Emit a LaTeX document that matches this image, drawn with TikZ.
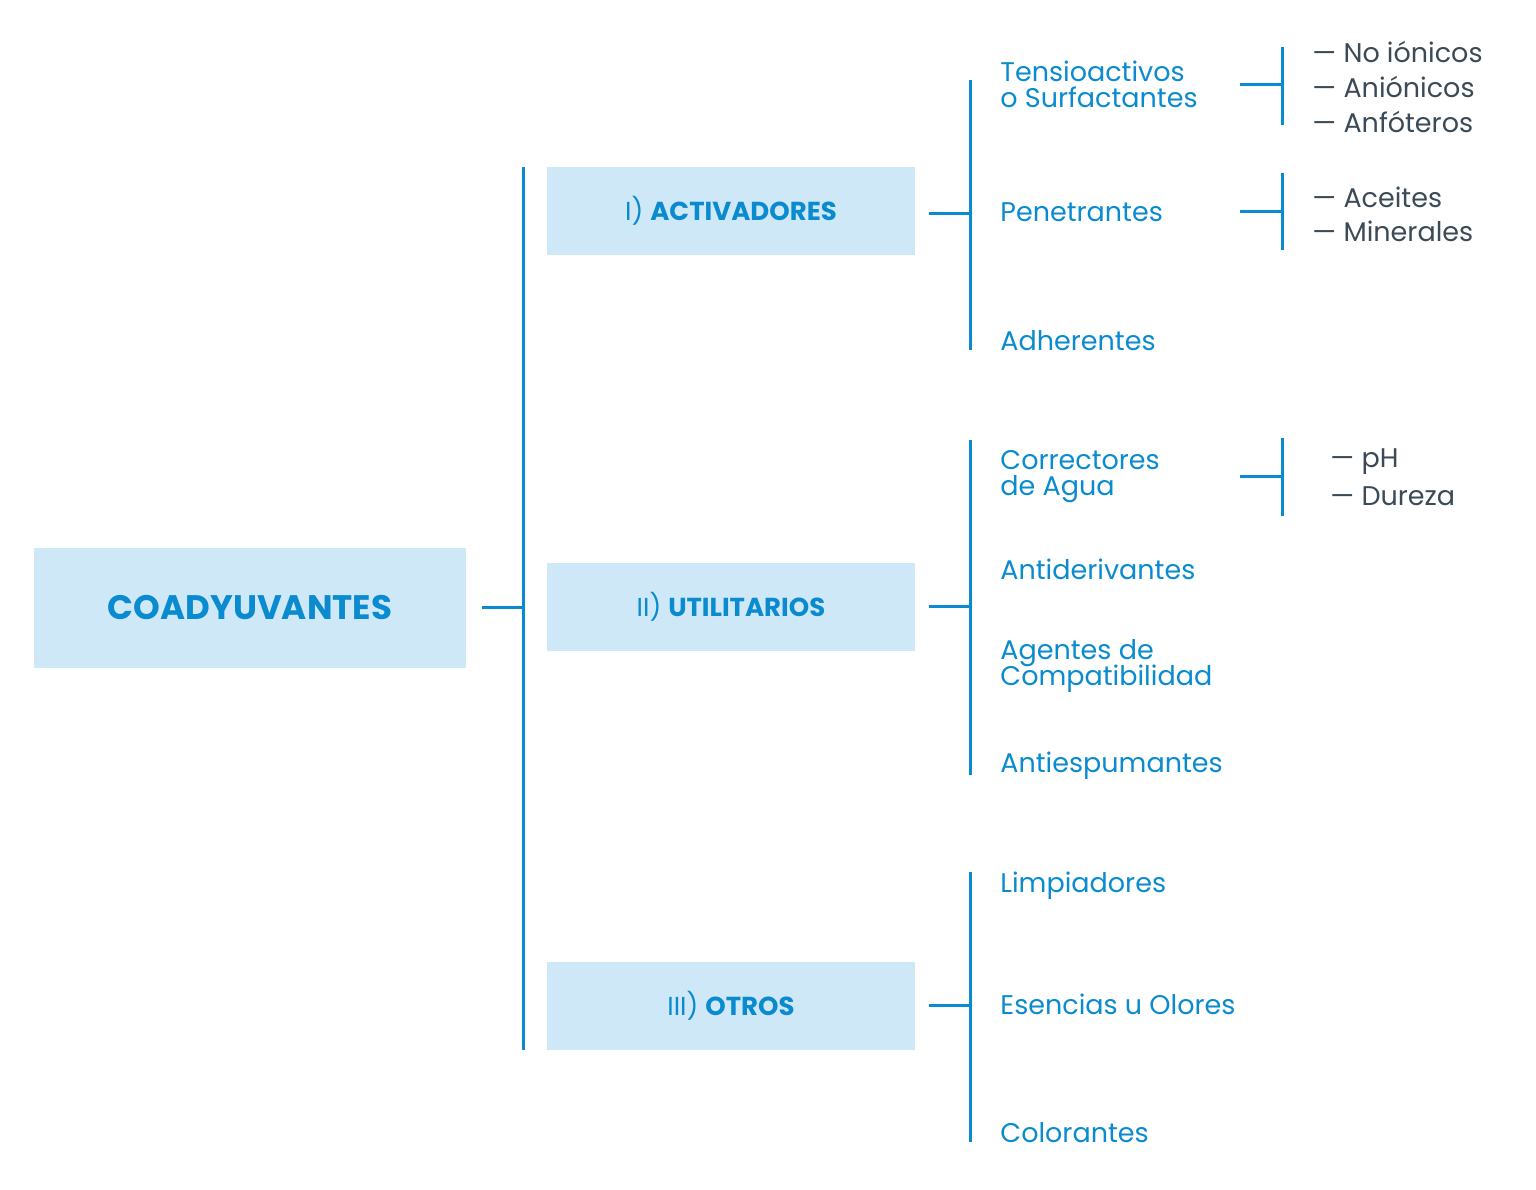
\documentclass[tikz,border=0pt]{standalone}
\usepackage{fontspec}
\setmainfont{Poppins}
\definecolor{bl}{HTML}{0A8BD0}
\definecolor{fillb}{HTML}{CFE8F7}
\definecolor{gr}{HTML}{3C4A57}
\begin{document}
\begin{tikzpicture}[x=0.5pt,y=-0.5pt,
  ln/.style={draw=bl,line width=1.5pt},
  bx/.style={fill=fillb,text=bl,minimum width=184pt,minimum height=44pt,font=\fontsize{13}{15}\selectfont},
  it/.style={anchor=west,text=bl,font=\fontsize{13.5}{15}\selectfont,align=left,inner sep=0pt},
  sb/.style={anchor=west,text=gr,font=\fontsize{13.5}{15}\selectfont,align=left,inner sep=0pt}]
\useasboundingbox (0,0) rectangle (1536,1189);
\node[fill=fillb,text=bl,minimum width=216pt,minimum height=60pt,font=\fontsize{17}{20}\selectfont\bfseries] (root) at (250,608) {COADYUVANTES};
\node[bx] (a) at (731,211) {I) \textbf{ACTIVADORES}};
\node[bx] (u) at (731,607) {II) \textbf{UTILITARIOS}};
\node[bx] (o) at (731,1006) {III) \textbf{OTROS}};
\coordinate (rv1) at (523,167); \coordinate (rv2) at (523,1050);
\draw[ln] (482,607) -- (523,607); \draw[ln] (rv1) -- (rv2);
% groups
\draw[ln] (929,213) -- (970,213); \draw[ln] (970,80) -- (970,350);
\draw[ln] (929,606) -- (970,606); \draw[ln] (970,440) -- (970,775);
\draw[ln] (929,1005) -- (970,1005); \draw[ln] (970,872) -- (970,1142);
\node[it] (t1) at (1000,84) {Tensioactivos\\[-2pt]o Surfactantes};
\node[it] (t2) at (1000,212) {Penetrantes};
\node[it] (t3) at (1000,341) {Adherentes};
\node[it] (t4) at (1000,477) {Correctores\\[-2pt]de Agua};
\node[it] (t5) at (1000,569) {Antiderivantes};
\node[it] (t6) at (1000,666) {Agentes de\\[-2pt]Compatibilidad};
\node[it] (t7) at (1000,766) {Antiespumantes};
\node[it] (t8) at (1000,886) {Limpiadores};
\node[it] (t9) at (1000,1004) {Esencias u Olores};
\node[it] (t10) at (1000,1133) {Colorantes};
% sub brackets
\draw[ln] (1240,84) -- (1282,84); \draw[ln] (1282,47) -- (1282,125);
\draw[ln] (1240,211) -- (1282,211); \draw[ln] (1282,173) -- (1282,250);
\draw[ln] (1240,476) -- (1282,476); \draw[ln] (1282,438) -- (1282,516);
\node[sb] (s1) at (1312,52) {— No iónicos};
\node[sb] (s2) at (1312,87) {— Aniónicos};
\node[sb] (s3) at (1312,122) {— Anfóteros};
\node[sb] (s4) at (1312,197) {— Aceites};
\node[sb] (s5) at (1312,231) {— Minerales};
\node[sb] (s6) at (1330,462) {— pH};
\node[sb] (s7) at (1330,496) {— Dureza};
\end{tikzpicture}
\end{document}
